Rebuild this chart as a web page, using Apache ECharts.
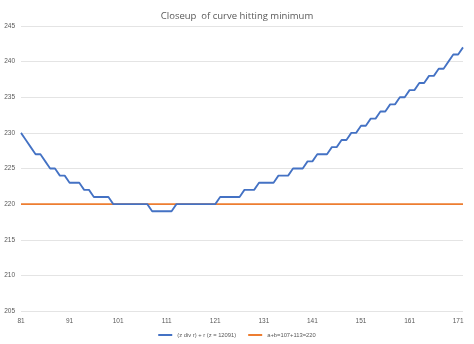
<!DOCTYPE html>
<html><head><meta charset="utf-8">
<script src="https://cdn.jsdelivr.net/npm/echarts@6/dist/echarts.min.js"></script>
<style>html,body{margin:0;padding:0;background:#fff}#c{width:474px;height:344px}</style>
</head><body><div id="c"></div>
<script>
const categories = [81,82,83,84,85,86,87,88,89,90,91,92,93,94,95,96,97,98,99,100,101,102,103,104,105,106,107,108,109,110,111,112,113,114,115,116,117,118,119,120,121,122,123,124,125,126,127,128,129,130,131,132,133,134,135,136,137,138,139,140,141,142,143,144,145,146,147,148,149,150,151,152,153,154,155,156,157,158,159,160,161,162,163,164,165,166,167,168,169,170,171,172];
const curveValues = [230,229,228,227,227,226,225,225,224,224,223,223,223,222,222,221,221,221,221,220,220,220,220,220,220,220,220,219,219,219,219,219,220,220,220,220,220,220,220,220,220,221,221,221,221,221,222,222,222,223,223,223,223,224,224,224,225,225,225,226,226,227,227,227,228,228,229,229,230,230,231,231,232,232,233,233,234,234,235,235,236,236,237,237,238,238,239,239,240,241,241,242];
const minValues = [220,220,220,220,220,220,220,220,220,220,220,220,220,220,220,220,220,220,220,220,220,220,220,220,220,220,220,220,220,220,220,220,220,220,220,220,220,220,220,220,220,220,220,220,220,220,220,220,220,220,220,220,220,220,220,220,220,220,220,220,220,220,220,220,220,220,220,220,220,220,220,220,220,220,220,220,220,220,220,220,220,220,220,220,220,220,220,220,220,220,220,220];
const seriesNames = ['(z div r) + r (z = 12091)', 'a+b=107+113=220'];
const titleText = 'Closeup  of curve hitting minimum';

const chart = echarts.init(document.getElementById('c'));
chart.setOption({
  animation: false,
  title: { text: titleText, left: 'center', top: 6, textStyle: { fontFamily: '"Open Sans", sans-serif', fontSize: 9.5, fontWeight: 'normal', color: '#595959' } },
  grid: { left: 21, right: 11, top: 26, bottom: 33 },
  legend: { bottom: 1, left: 'center', itemWidth: 14, itemHeight: 2, itemGap: 12,
    icon: 'rect',
    textStyle: { fontSize: 5.8, color: '#595959', fontFamily: '"Liberation Sans", sans-serif' },
    data: seriesNames },
  xAxis: { type: 'category', data: categories, boundaryGap: false,
    axisLine: { show: false }, axisTick: { show: false },
    axisLabel: { interval: 9, fontSize: 6.5, color: '#595959', margin: 7, fontFamily: '"Liberation Sans", sans-serif' },
    splitLine: { show: false } },
  yAxis: { type: 'value', min: 205, max: 245, interval: 5,
    axisLine: { show: false }, axisTick: { show: false },
    axisLabel: { fontSize: 6.5, color: '#595959', margin: 6, fontFamily: '"Liberation Sans", sans-serif' },
    splitLine: { lineStyle: { color: '#e4e4e4', width: 1 } } },
  series: [
    { name: seriesNames[0], type: 'line', data: curveValues, showSymbol: false, symbol: 'none', lineStyle: { color: '#4472C4', width: 1.8 }, itemStyle: { color: '#4472C4' }, z: 3 },
    { name: seriesNames[1], type: 'line', data: minValues, showSymbol: false, symbol: 'none', lineStyle: { color: '#ED7D31', width: 1.8 }, itemStyle: { color: '#ED7D31' }, z: 2 }
  ]
});
</script></body></html>
